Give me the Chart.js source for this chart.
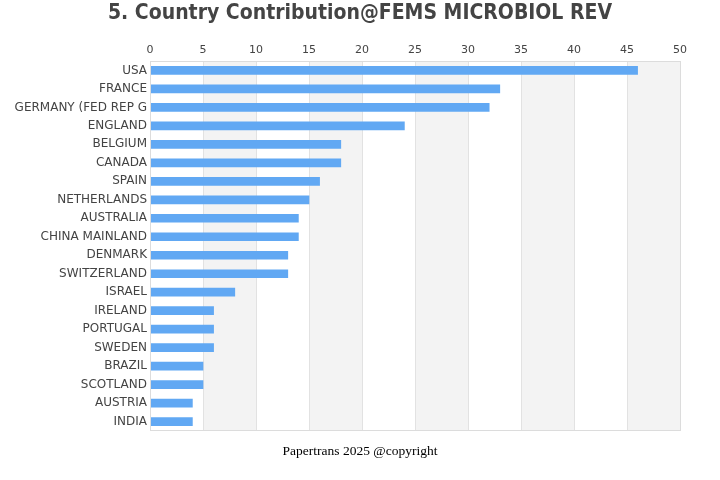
<!DOCTYPE html>
<html>
<head>
<meta charset="utf-8">
<script src="https://cdn.jsdelivr.net/npm/chart.js@4"></script>
<style>
  html, body { margin: 0; padding: 0; background: #fff; }
  #wrap { width: 720px; height: 480px; }
</style>
</head>
<body>
<div id="wrap"><canvas id="c" width="720" height="480"></canvas></div>
<script>
const countries = ['USA','FRANCE','GERMANY (FED REP G','ENGLAND','BELGIUM','CANADA','SPAIN','NETHERLANDS','AUSTRALIA','CHINA MAINLAND','DENMARK','SWITZERLAND','ISRAEL','IRELAND','PORTUGAL','SWEDEN','BRAZIL','SCOTLAND','AUSTRIA','INDIA'];
const counts = [46,33,32,24,18,18,16,15,14,14,13,13,8,6,6,6,5,5,4,4];
const xTicks = [0,5,10,15,20,25,30,35,40,45,50];
const titleText = '5. Country Contribution@FEMS MICROBIOL REV';
const footerText = 'Papertrans 2025 @copyright';

const bandPlugin = {
  id: 'bands',
  beforeDraw(chart) {
    const {ctx, chartArea: a, scales: {x}} = chart;
    ctx.save();
    ctx.fillStyle = '#f3f3f3';
    for (let i = 1; i < xTicks.length; i += 2) {
      const x0 = x.getPixelForValue(xTicks[i]);
      const x1 = x.getPixelForValue(xTicks[i + 1] !== undefined ? xTicks[i + 1] : x.max);
      ctx.fillRect(x0, a.top, x1 - x0, a.bottom - a.top);
    }
    ctx.restore();
  },
  afterDraw(chart) {
    const {ctx, chartArea: a} = chart;
    ctx.save();
    ctx.strokeStyle = '#dcdcdc';
    ctx.lineWidth = 1;
    ctx.strokeRect(Math.round(a.left) + 0.5, Math.round(a.top) + 0.5, Math.round(a.right - a.left), Math.round(a.bottom - a.top) - 1);
    ctx.restore();
  }
};

new Chart(document.getElementById('c'), {
  type: 'bar',
  data: {
    labels: countries,
    datasets: [{
      data: counts,
      backgroundColor: '#61a8f3',
      borderWidth: 0,
      barThickness: 8
    }]
  },
  options: {
    indexAxis: 'y',
    responsive: false,
    animation: false,
    devicePixelRatio: 1,
    layout: { padding: { left: 0, right: 0, top: 0, bottom: 0 } },
    plugins: {
      legend: { display: false },
      tooltip: { enabled: false },
      title: {
        display: true,
        text: titleText,
        color: '#444444',
        font: { family: '"DejaVu Sans Condensed", "DejaVu Sans"', size: 21, weight: 'bold', lineHeight: 1.2 },
        padding: { top: 1, bottom: 10 }
      },
      subtitle: {
        display: true,
        position: 'bottom',
        text: footerText,
        color: '#000000',
        font: { family: '"Liberation Serif"', size: 13.5, lineHeight: 1.2 },
        padding: { top: 13, bottom: 20 }
      }
    },
    scales: {
      x: {
        position: 'top',
        min: 0,
        max: 50,
        afterBuildTicks(s) { s.ticks = xTicks.map(v => ({ value: v })); },
        afterFit(s) { s.height = 25; },
        ticks: {
          color: '#444444',
          font: { family: 'DejaVu Sans', size: 11 },
          padding: 4,
          maxRotation: 0
        },
        grid: { color: '#e2e2e2', drawTicks: false },
        border: { display: false }
      },
      y: {
        afterFit(s) { s.width = 150; },
        ticks: {
          color: '#444444',
          font: { family: 'DejaVu Sans', size: 12 },
          padding: 3,
          autoSkip: false
        },
        grid: { display: false, drawTicks: false },
        border: { display: false }
      },
      spacer: {
        type: 'linear',
        position: 'right',
        display: true,
        afterFit(s) { s.width = 40; },
        ticks: { display: false },
        grid: { display: false, drawTicks: false },
        border: { display: false }
      }
    }
  },
  plugins: [bandPlugin]
});
</script>
</body>
</html>
